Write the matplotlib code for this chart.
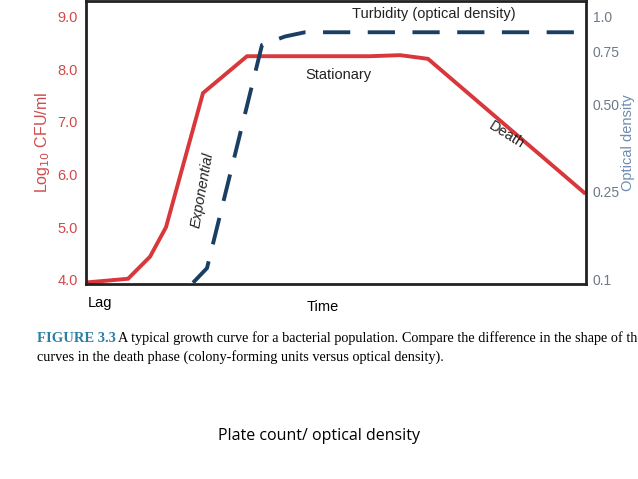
import numpy as np
import matplotlib
matplotlib.use("Agg")
import matplotlib.pyplot as plt

plt.rcParams['font.family'] = ['Liberation Sans', 'DejaVu Sans']

# data
cfu_t = [0, 8.4, 12.8, 16, 23.4, 32.2, 56.8, 62.8, 68.4, 99.6]
cfu_v = [3.95, 4.02, 4.44, 5.0, 7.55, 8.25, 8.25, 8.27, 8.2, 5.66]
od_t = [21.4, 24.2, 35.2, 39.8, 43.8, 100]
od_v = [0.095, 0.12, 0.80, 0.86, 0.89, 0.89]
left_ticks = [4.0, 5.0, 6.0, 7.0, 8.0, 9.0]
od_ticks = [0.1, 0.25, 0.5, 0.75, 1.0]
od_tick_labels = ["0.1", "0.25", "0.50", "0.75", "1.0"]

# mapping of OD scale onto the left axis scale (schematic, nonlinear)
od_knots = [0.0, 0.1, 0.25, 0.5, 0.75, 1.0, 2.0]
pos_knots = [2.9, 4.0, 5.67, 7.33, 8.33, 9.0, 11.7]
fwd = lambda v: np.interp(v, od_knots, pos_knots)
inv = lambda p: np.interp(p, pos_knots, od_knots)

fig = plt.figure(figsize=(6.38, 4.79), dpi=100)
ax = fig.add_axes([0.1348, 0.407, 0.7837, 0.591])
ylo, yhi = 3.92, 9.3
ax.set_xlim(0, 100)
ax.set_ylim(ylo, yhi)
ax.plot(cfu_t, cfu_v, color="#d8383b", lw=2.8, solid_joinstyle="miter")
ax.set_yticks(left_ticks)
ax.set_yticklabels([f"{v:.1f}" for v in left_ticks], color="#d04a4a", fontsize=10.5)
ax.set_xticks([])
ax.tick_params(axis="y", length=0, pad=6)
ax.set_ylabel("Log$_{10}$ CFU/ml", color="#d04a4a", fontsize=11.5, labelpad=4)
for s in ax.spines.values():
    s.set_linewidth(2)
    s.set_color("#222222")

ax2 = ax.twinx()
ax2.set_yscale("function", functions=(fwd, inv))
ax2.set_ylim(inv(ylo), inv(yhi))
ax2.plot(od_t, od_v, color="#1b3f63", lw=2.8, ls=(0, (7, 4.5)))
ax2.set_yticks(od_ticks)
ax2.set_yticklabels(od_tick_labels, color="#6e7a88", fontsize=10)
ax2.minorticks_off()
ax2.tick_params(axis="y", length=0, pad=5, which="both")
ax2.set_ylabel("Optical density", color="#6e8cb0", fontsize=10.5, labelpad=1)
for s in ax2.spines.values():
    s.set_visible(False)

ax.text(69.5, 9.05, "Turbidity (optical density)", ha="center", va="center", fontsize=10.5, color="#222")
ax.text(50.5, 7.9, "Stationary", ha="center", va="center", fontsize=10.5, color="#222")
ax.text(84, 6.75, "Death", ha="center", va="center", fontsize=10.5, color="#222", rotation=-32)
ax.text(23.2, 5.7, "Exponential", ha="center", va="center", fontsize=10.5, color="#222", rotation=80, style="italic")

fig.text(100/638, 1-303/479, "Lag", ha="center", va="center", fontsize=10.5)
fig.text(323/638, 1-307/479, "Time", ha="center", va="center", fontsize=10.5)

serif = "Liberation Serif"
fig.text(37/638, 1-338/479, "FIGURE 3.3", ha="left", va="center", fontsize=10.5,
         color="#2a7fa6", fontweight="bold", family=serif)
fig.text(118/638, 1-338/479, "A typical growth curve for a bacterial population. Compare the difference in the shape of the",
         ha="left", va="center", fontsize=10.3, family=serif)
fig.text(37/638, 1-357/479, "curves in the death phase (colony-forming units versus optical density).",
         ha="left", va="center", fontsize=10.3, family=serif)
fig.text(319/638, 1-436/479, "Plate count/ optical density", ha="center", va="center", fontsize=11.5,
         family=["Open Sans", "DejaVu Sans"])

fig.savefig("out.png", dpi=100)
